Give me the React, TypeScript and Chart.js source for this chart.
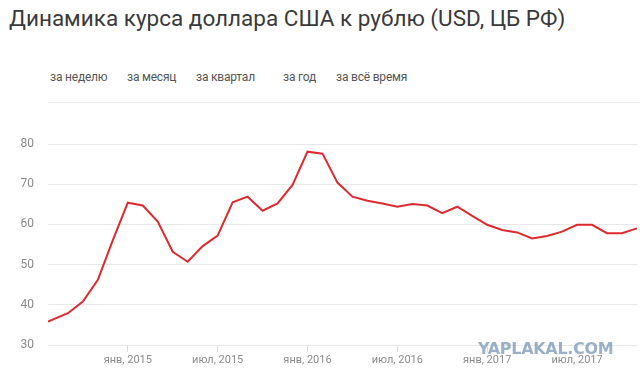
import React, { useEffect, useRef } from "react";
import { Chart, registerables } from "chart.js";

Chart.register(...registerables);

// months relative to Jan 2015 (0 = янв 2015)
const monthIndex = [-5.33, -4, -3, -2, -1, 0, 1, 2, 3, 4, 5, 6, 7, 8, 9, 10, 11, 12, 13, 14, 15, 16, 17, 18, 19, 20, 21, 22, 23, 24, 25, 26, 27, 28, 29, 30, 31, 32, 33, 34];
const usdRub = [35.8, 37.9, 40.8, 46.2, 56.1, 65.4, 64.7, 60.7, 53.2, 50.7, 54.6, 57.2, 65.5, 66.9, 63.4, 65.2, 69.8, 78.1, 77.6, 70.4, 66.9, 65.9, 65.2, 64.4, 65.1, 64.7, 62.8, 64.4, 62.1, 59.9, 58.6, 58.0, 56.5, 57.1, 58.2, 59.9, 59.9, 57.8, 57.8, 59.0];
const tickPositions = [0, 6, 12, 18, 24, 30];
const tickLabels = ["янв, 2015", "июл, 2015", "янв, 2016", "июл, 2016", "янв, 2017", "июл, 2017"];
const yTicks = [30, 40, 50, 60, 70, 80];
const tabs = ["за неделю", "за месяц", "за квартал", "за год", "за всё время"];
const tabX = [50, 127, 196, 283, 336];

export default function App() {
  const ref = useRef<HTMLCanvasElement | null>(null);
  useEffect(() => {
    if (!ref.current) return;
    const chart = new Chart(ref.current, {
      type: "line",
      data: {
        datasets: [
          {
            data: monthIndex.map((m, i) => ({ x: m, y: usdRub[i] })),
            borderColor: "#dc2a2f",
            borderWidth: 2,
            pointRadius: 0,
            tension: 0,
            fill: false,
          },
        ],
      },
      options: {
        animation: false,
        responsive: false,
        maintainAspectRatio: false,
        layout: { padding: { top: 34, right: 2, left: 0, bottom: 0 } },
        plugins: { legend: { display: false }, tooltip: { enabled: false } },
        scales: {
          x: {
            type: "linear",
            min: -5.33,
            max: 34.07,
            afterBuildTicks: (s: any) => {
              s.ticks = tickPositions.map((v) => ({ value: v }));
            },
            afterFit: (s: any) => {
              s.height = 35;
            },
            ticks: {
              autoSkip: false,
              maxRotation: 0,
              padding: 2,
              color: "#8a8a8a",
              font: { family: "Roboto", size: 11 },
              callback: (v: any) => {
                const i = tickPositions.indexOf(Number(v));
                return i >= 0 ? tickLabels[i] : "";
              },
            },
            grid: { drawOnChartArea: false, drawTicks: true, tickLength: 7, color: "#dcdcdc" },
            border: { display: false },
          },
          y: {
            min: 30,
            max: 80,
            afterBuildTicks: (s: any) => {
              s.ticks = yTicks.map((v) => ({ value: v }));
            },
            afterFit: (s: any) => {
              s.width = 48;
            },
            ticks: {
              padding: 14,
              color: "#8a8a8a",
              font: { family: "Roboto", size: 12 },
            },
            grid: { color: "#e8e8e8", drawTicks: false, lineWidth: 1 },
            border: { display: false },
          },
        },
      },
    });
    return () => chart.destroy();
  }, []);

  return (
    <div style={{ position: "fixed", left: 0, top: 0, width: 640, height: 380, background: "#fff", overflow: "hidden", fontFamily: "Roboto, sans-serif" }}>
      <div style={{ position: "absolute", left: 9, top: 5, fontSize: 22.5, color: "#3a3a3a", whiteSpace: "nowrap" }}>
        Динамика курса доллара США к рублю (USD, ЦБ РФ)
      </div>
      {tabs.map((t, i) => (
        <div key={t} style={{ position: "absolute", left: tabX[i], top: 70, fontSize: 12, color: "#555", whiteSpace: "nowrap", letterSpacing: -0.2 }}>
          {t}
        </div>
      ))}
      <div style={{ position: "absolute", left: 48, top: 102, width: 592, height: 1, background: "#ececec" }} />
      <canvas ref={ref} width={640} height={270} style={{ position: "absolute", left: 0, top: 110, width: 640, height: 270 }} />
      <div style={{ position: "absolute", left: 478, top: 339, fontSize: 16, fontWeight: 700, color: "rgba(120,150,180,0.75)", fontFamily: "DejaVu Sans", whiteSpace: "nowrap", letterSpacing: -0.3 }}>
        YAPLAKAL.COM
      </div>
    </div>
  );
}
